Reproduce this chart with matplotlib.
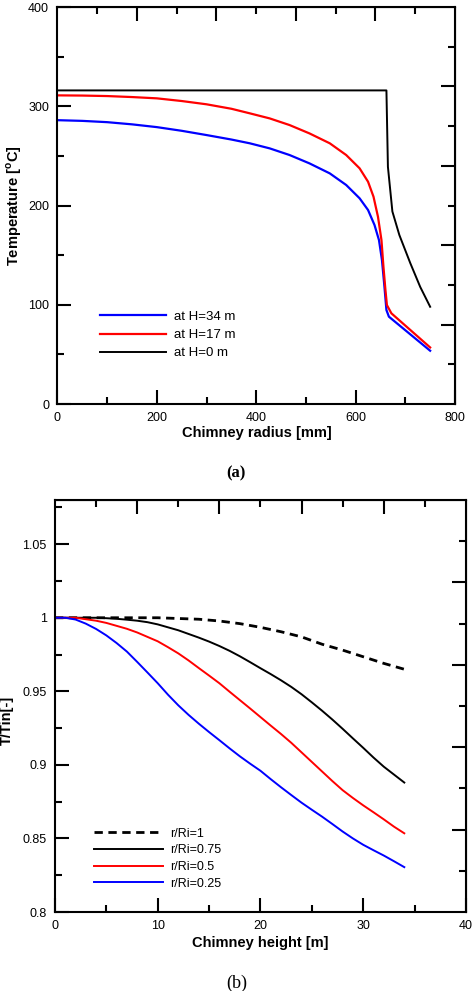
import matplotlib
matplotlib.use('Agg')
import matplotlib.pyplot as plt

plt.rcParams['font.family'] = ['Liberation Sans', 'DejaVu Sans']

# (a) temperature across the chimney radius
r_h34 = [0, 50, 100, 150, 200, 250, 300, 350, 387, 427, 467, 507, 548, 581, 608,
         625, 638, 647, 653, 658, 662, 667, 750]
t_h34 = [286, 285.3, 284, 281.8, 279, 275.3, 271, 266.5, 262.7, 257.6, 250.9, 242.5,
         232.4, 220.7, 207.3, 195.5, 180.4, 165.2, 145.1, 118.2, 94.7, 88, 53.7]
r_h17 = [0, 50, 100, 150, 200, 250, 300, 350, 387, 427, 467, 507, 548, 581, 608,
         625, 636, 645, 652, 656, 660, 663, 672, 750]
t_h17 = [311, 310.8, 310.3, 309.3, 308, 305.3, 302, 297.5, 292.9, 287.8, 281.1, 272.7,
         262.7, 250.9, 237.5, 224, 208.9, 188.7, 165.2, 138.3, 114.9, 99.7, 91.4, 57]
r_h0 = [0, 662, 665, 674, 688, 710, 730, 750]
t_h0 = [316, 316, 239, 194, 170.3, 142, 118, 98]

# (b) normalised temperature along the chimney height
height = list(range(0, 35))
ratio_075 = [1, 1, 1, 1, 1, 0.9997, 0.9993, 0.9987, 0.998, 0.997, 0.9955, 0.9935,
             0.9915, 0.989, 0.9865, 0.9838, 0.9808, 0.9775, 0.9738, 0.9698, 0.9657,
             0.9617, 0.9575, 0.953, 0.948, 0.9425, 0.9368, 0.9308, 0.9245, 0.918,
             0.9116, 0.905, 0.8988, 0.8934, 0.888]
ratio_050 = [1, 1, 1, 0.999, 0.998, 0.9965, 0.9945, 0.9925, 0.990, 0.987, 0.984,
             0.980, 0.9758, 0.971, 0.9658, 0.9607, 0.9555, 0.9497, 0.944, 0.9383,
             0.9325, 0.9267, 0.921, 0.915, 0.9085, 0.902, 0.8955, 0.889, 0.8828,
             0.8775, 0.8725, 0.8678, 0.863, 0.858, 0.8535]
ratio_025 = [1, 1, 0.9988, 0.996, 0.9924, 0.988, 0.9828, 0.977, 0.970, 0.9628,
             0.9555, 0.9477, 0.9405, 0.934, 0.928, 0.9223, 0.9168, 0.9112, 0.9058,
             0.9008, 0.896, 0.8903, 0.8848, 0.8795, 0.8743, 0.8695, 0.8648, 0.8598,
             0.8547, 0.850, 0.8457, 0.842, 0.8384, 0.8345, 0.8305]
height_dash = [0, 2, 4, 6, 8, 10, 12, 14, 16, 18, 20, 22, 24, 26, 28, 30, 32, 34]
ratio_100 = [1, 1, 1, 1, 1, 1, 0.9995, 0.999, 0.9978, 0.996, 0.9935, 0.9905,
             0.987, 0.982, 0.978, 0.9735, 0.969, 0.965]


def style_axes(ax, top_major, top_minor, right_major, right_minor):
    for s in ax.spines.values():
        s.set_linewidth(1.5)
    ax.tick_params(which='both', direction='in', top=False, right=False,
                   width=1.5, labelsize=9, pad=6)
    ax.tick_params(which='major', length=10)
    ax.tick_params(which='minor', length=5)
    sx = ax.secondary_xaxis('top')
    sx.set_xticks(top_major)
    sx.set_xticks(top_minor, minor=True)
    sx.set_xticklabels([])
    sx.tick_params(which='both', direction='in', width=1.5)
    sx.tick_params(which='major', length=10)
    sx.tick_params(which='minor', length=5)
    sy = ax.secondary_yaxis('right')
    sy.set_yticks(right_major)
    sy.set_yticks(right_minor, minor=True)
    sy.set_yticklabels([])
    sy.tick_params(which='both', direction='in', width=1.5)
    sy.tick_params(which='major', length=10)
    sy.tick_params(which='minor', length=5)


fig = plt.figure(figsize=(4.74, 9.91), dpi=100)

# ---- (a)
ax1 = fig.add_axes([0.1213, 0.5923, 0.8386, 0.4006])
ax1.plot(r_h34, t_h34, color='#0000ff', lw=1.6, label='at H=34 m')
ax1.plot(r_h17, t_h17, color='#ff0000', lw=1.6, label='at H=17 m')
ax1.plot(r_h0, t_h0, color='black', lw=1.4, label='at H=0 m')
ax1.set_xlim(0, 800)
ax1.set_ylim(0, 400)
ax1.set_xticks([0, 200, 400, 600, 800])
ax1.set_xticks([100, 300, 500, 700], minor=True)
ax1.set_yticks([0, 100, 200, 300, 400])
ax1.set_yticks([50, 150, 250, 350], minor=True)
style_axes(ax1, [160, 320, 480, 640], [80, 240, 400, 560, 720],
           [80, 160, 240, 320], [40, 120, 200, 280, 360])
ax1.set_xlabel('Chimney radius [mm]', fontsize=10.5, fontweight='bold')
ax1.set_ylabel('Temperature [$^{\\mathregular{o}}$C]', fontsize=10.5, fontweight='bold')
ax1.xaxis.set_label_coords(0.502, -0.056)
ax1.yaxis.set_label_coords(-0.084, 0.50)
ax1.legend(loc='upper left', bbox_to_anchor=(0.107, 0.235), frameon=False,
           fontsize=9.5, handlelength=5, handletextpad=0.6, labelspacing=0.45,
           borderpad=0, borderaxespad=0)

fig.text(0.497, 1 - 473 / 991, '(a)', ha='center', va='center', fontsize=12,
         fontweight='bold', family='Liberation Serif')

# ---- (b)
ax2 = fig.add_axes([0.116, 0.0797, 0.867, 0.4157])
ax2.plot(height_dash, ratio_100, color='black', lw=2, ls=(0, (3, 2)), label='r/Ri=1')
ax2.plot(height, ratio_075, color='black', lw=1.4, label='r/Ri=0.75')
ax2.plot(height, ratio_050, color='#ff0000', lw=1.4, label='r/Ri=0.5')
ax2.plot(height, ratio_025, color='#0000ff', lw=1.4, label='r/Ri=0.25')
ax2.set_xlim(0, 40)
ax2.set_ylim(0.8, 1.08)
ax2.set_xticks([0, 10, 20, 30, 40])
ax2.set_xticks([5, 15, 25, 35], minor=True)
ax2.set_yticks([0.8, 0.85, 0.9, 0.95, 1.0, 1.05])
ax2.set_yticklabels(['0.8', '0.85', '0.9', '0.95', '1', '1.05'])
ax2.set_yticks([0.825, 0.875, 0.925, 0.975, 1.025, 1.075], minor=True)
style_axes(ax2, [8, 16, 24, 32], [4, 12, 20, 28, 36],
           [0.856, 0.912, 0.968, 1.024], [0.828, 0.884, 0.94, 0.996, 1.052])
ax2.set_xlabel('Chimney height [m]', fontsize=10.5, fontweight='bold')
ax2.set_ylabel('T/Tin[-]', fontsize=10.5, fontweight='bold')
ax2.xaxis.set_label_coords(0.499, -0.058)
ax2.yaxis.set_label_coords(-0.0998, 0.464)
ax2.legend(loc='upper left', bbox_to_anchor=(0.095, 0.205), frameon=False,
           fontsize=9, handlelength=5.5, handletextpad=0.6, labelspacing=0.38,
           borderpad=0, borderaxespad=0)

fig.text(0.499, 1 - 983 / 991, '(b)', ha='center', va='center', fontsize=13,
         family='Liberation Serif')

fig.savefig('out.png', dpi=100)
